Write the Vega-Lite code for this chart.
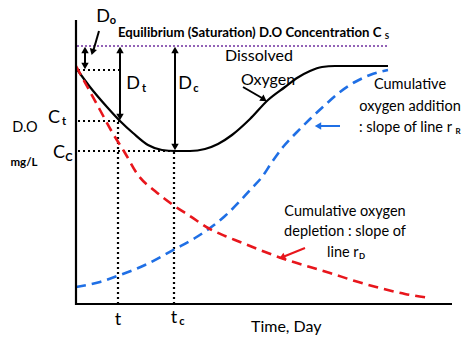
{
  "$schema": "https://vega.github.io/schema/vega-lite/v6.json",
  "width": 474,
  "height": 346,
  "padding": 0,
  "autosize": {"type": "fit", "contains": "padding"},
  "background": "white",
  "config": {"view": {"stroke": null}, "font": "Lato"},
  "datasets": {
    "curves": [
      {"series": "Dissolved oxygen", "x": 76, "y": 68},
      {"series": "Dissolved oxygen", "x": 90, "y": 87},
      {"series": "Dissolved oxygen", "x": 107, "y": 107},
      {"series": "Dissolved oxygen", "x": 120, "y": 121},
      {"series": "Dissolved oxygen", "x": 133, "y": 133},
      {"series": "Dissolved oxygen", "x": 148, "y": 145},
      {"series": "Dissolved oxygen", "x": 162, "y": 150},
      {"series": "Dissolved oxygen", "x": 175, "y": 151},
      {"series": "Dissolved oxygen", "x": 190, "y": 151},
      {"series": "Dissolved oxygen", "x": 205, "y": 149},
      {"series": "Dissolved oxygen", "x": 218, "y": 144},
      {"series": "Dissolved oxygen", "x": 232, "y": 135},
      {"series": "Dissolved oxygen", "x": 250, "y": 119},
      {"series": "Dissolved oxygen", "x": 268, "y": 100},
      {"series": "Dissolved oxygen", "x": 285, "y": 87},
      {"series": "Dissolved oxygen", "x": 297, "y": 78},
      {"series": "Dissolved oxygen", "x": 310, "y": 71},
      {"series": "Dissolved oxygen", "x": 322, "y": 67},
      {"series": "Dissolved oxygen", "x": 335, "y": 66},
      {"series": "Dissolved oxygen", "x": 388, "y": 66},
      {"series": "Cumulative oxygen addition", "x": 76, "y": 287},
      {"series": "Cumulative oxygen addition", "x": 100, "y": 282},
      {"series": "Cumulative oxygen addition", "x": 120, "y": 275},
      {"series": "Cumulative oxygen addition", "x": 145, "y": 265},
      {"series": "Cumulative oxygen addition", "x": 175, "y": 249},
      {"series": "Cumulative oxygen addition", "x": 195, "y": 238},
      {"series": "Cumulative oxygen addition", "x": 210, "y": 228},
      {"series": "Cumulative oxygen addition", "x": 225, "y": 216},
      {"series": "Cumulative oxygen addition", "x": 240, "y": 201},
      {"series": "Cumulative oxygen addition", "x": 252, "y": 188},
      {"series": "Cumulative oxygen addition", "x": 262, "y": 177},
      {"series": "Cumulative oxygen addition", "x": 272, "y": 162},
      {"series": "Cumulative oxygen addition", "x": 283, "y": 147},
      {"series": "Cumulative oxygen addition", "x": 296, "y": 133},
      {"series": "Cumulative oxygen addition", "x": 310, "y": 119},
      {"series": "Cumulative oxygen addition", "x": 325, "y": 105},
      {"series": "Cumulative oxygen addition", "x": 340, "y": 92},
      {"series": "Cumulative oxygen addition", "x": 355, "y": 82},
      {"series": "Cumulative oxygen addition", "x": 370, "y": 75},
      {"series": "Cumulative oxygen addition", "x": 388, "y": 70},
      {"series": "Cumulative oxygen depletion", "x": 76, "y": 66},
      {"series": "Cumulative oxygen depletion", "x": 88, "y": 88},
      {"series": "Cumulative oxygen depletion", "x": 100, "y": 110},
      {"series": "Cumulative oxygen depletion", "x": 112, "y": 132},
      {"series": "Cumulative oxygen depletion", "x": 125, "y": 153},
      {"series": "Cumulative oxygen depletion", "x": 138, "y": 175},
      {"series": "Cumulative oxygen depletion", "x": 155, "y": 191},
      {"series": "Cumulative oxygen depletion", "x": 173, "y": 205},
      {"series": "Cumulative oxygen depletion", "x": 190, "y": 216},
      {"series": "Cumulative oxygen depletion", "x": 208, "y": 228},
      {"series": "Cumulative oxygen depletion", "x": 225, "y": 236},
      {"series": "Cumulative oxygen depletion", "x": 240, "y": 242},
      {"series": "Cumulative oxygen depletion", "x": 260, "y": 250},
      {"series": "Cumulative oxygen depletion", "x": 287, "y": 260},
      {"series": "Cumulative oxygen depletion", "x": 310, "y": 267},
      {"series": "Cumulative oxygen depletion", "x": 330, "y": 273},
      {"series": "Cumulative oxygen depletion", "x": 355, "y": 281},
      {"series": "Cumulative oxygen depletion", "x": 380, "y": 288},
      {"series": "Cumulative oxygen depletion", "x": 405, "y": 294},
      {"series": "Cumulative oxygen depletion", "x": 430, "y": 298}
    ]
  },
  "encoding": {
    "x": {"field": "x", "type": "quantitative", "scale": {"domain": [0, 474], "nice": false, "zero": false}, "axis": null},
    "y": {"field": "y", "type": "quantitative", "scale": {"domain": [0, 346], "nice": false, "zero": false, "reverse": true}, "axis": null}
  },
  "layer": [
    {
      "data": {"values": [
        {"x": 77, "y": 46, "x2": 388, "y2": 46}
      ]},
      "mark": {"type": "rule", "color": "#7030a0", "strokeWidth": 1.6, "strokeDash": [2, 2]},
      "encoding": {"x2": {"field": "x2"}, "y2": {"field": "y2"}}
    },
    {
      "data": {"values": [
        {"x": 78, "y": 70, "x2": 120, "y2": 70},
        {"x": 78, "y": 121, "x2": 120, "y2": 121},
        {"x": 78, "y": 151, "x2": 175, "y2": 151},
        {"x": 118, "y": 122, "x2": 118, "y2": 303},
        {"x": 174, "y": 152, "x2": 174, "y2": 303}
      ]},
      "mark": {"type": "rule", "color": "black", "strokeWidth": 2.2, "strokeDash": [2, 3]},
      "encoding": {"x2": {"field": "x2"}, "y2": {"field": "y2"}}
    },
    {
      "data": {"name": "curves"},
      "transform": [{"filter": "datum.series === 'Dissolved oxygen'"}],
      "mark": {"type": "line", "color": "black", "strokeWidth": 2.2, "interpolate": "monotone"},
      "encoding": {}
    },
    {
      "data": {"name": "curves"},
      "transform": [{"filter": "datum.series === 'Cumulative oxygen addition'"}],
      "mark": {"type": "line", "color": "#1f6fe5", "strokeWidth": 2.6, "strokeDash": [10, 6], "interpolate": "monotone"},
      "encoding": {}
    },
    {
      "data": {"name": "curves"},
      "transform": [{"filter": "datum.series === 'Cumulative oxygen depletion'"}],
      "mark": {"type": "line", "color": "#e8161c", "strokeWidth": 2.6, "strokeDash": [10, 6], "interpolate": "monotone"},
      "encoding": {}
    },
    {
      "data": {"values": [
        {"x": 76, "y": 20, "x2": 76, "y2": 305},
        {"x": 75, "y": 304, "x2": 452, "y2": 304}
      ]},
      "mark": {"type": "rule", "color": "black", "strokeWidth": 2.2},
      "encoding": {"x2": {"field": "x2"}, "y2": {"field": "y2"}}
    },
    {
      "data": {"values": [
        {"series": "black", "x": 85, "y": 49, "x2": 85, "y2": 67},
        {"series": "black", "x": 120, "y": 49, "x2": 120, "y2": 118},
        {"series": "black", "x": 175, "y": 49, "x2": 175, "y2": 148},
        {"series": "black", "x": 99, "y": 31, "x2": 93.5, "y2": 50},
        {"series": "black", "x": 243, "y": 87, "x2": 262, "y2": 98},
        {"series": "red", "x": 305, "y": 248, "x2": 284, "y2": 256.5},
        {"series": "blue", "x": 340, "y": 126, "x2": 320, "y2": 126}
      ]},
      "mark": {"type": "rule", "strokeWidth": 2},
      "encoding": {
        "x2": {"field": "x2"}, "y2": {"field": "y2"},
        "color": {"field": "series", "type": "nominal", "scale": {"domain": ["black", "red", "blue"], "range": ["black", "#e8161c", "#1f6fe5"]}, "legend": null}
      }
    },
    {
      "data": {"values": [
        {"series": "black", "x": 85, "y": 50, "heading": 0},
        {"series": "black", "x": 120, "y": 50, "heading": 0},
        {"series": "black", "x": 175, "y": 50, "heading": 0},
        {"series": "black", "x": 85, "y": 66, "heading": 180},
        {"series": "black", "x": 120, "y": 117, "heading": 180},
        {"series": "black", "x": 175, "y": 147, "heading": 180},
        {"series": "black", "x": 92.5, "y": 52, "heading": 196},
        {"series": "black", "x": 264, "y": 99.5, "heading": 125},
        {"series": "red", "x": 282, "y": 257.5, "heading": 246},
        {"series": "blue", "x": 318, "y": 126, "heading": 270}
      ]},
      "mark": {"type": "point", "shape": "triangle-up", "filled": true, "opacity": 1, "size": 55},
      "encoding": {
        "angle": {"field": "heading", "type": "quantitative", "scale": null},
        "color": {"field": "series", "type": "nominal", "scale": {"domain": ["black", "red", "blue"], "range": ["black", "#e8161c", "#1f6fe5"]}, "legend": null}
      }
    },
    {
      "data": {"values": [
        {"text": "D", "x": 103, "y": 17},
        {"text": "D", "x": 133, "y": 84},
        {"text": "D", "x": 185, "y": 84},
        {"text": "C", "x": 54, "y": 118},
        {"text": "C", "x": 59, "y": 153},
        {"text": "t", "x": 118, "y": 320},
        {"text": "t", "x": 174, "y": 318}
      ]},
      "mark": {"type": "text", "fontSize": 18, "align": "center", "baseline": "middle", "color": "black"},
      "encoding": {"text": {"field": "text"}}
    },
    {
      "data": {"values": [
        {"text": "o", "x": 113, "y": 21},
        {"text": "t", "x": 144, "y": 89},
        {"text": "c", "x": 196, "y": 89},
        {"text": "t", "x": 64, "y": 122},
        {"text": "C", "x": 69, "y": 158},
        {"text": "c", "x": 182, "y": 322}
      ]},
      "mark": {"type": "text", "fontSize": 11, "fontWeight": "bold", "align": "center", "baseline": "middle", "color": "black"},
      "encoding": {"text": {"field": "text"}}
    },
    {
      "data": {"values": [
        {"text": "Equilibrium (Saturation) D.O Concentration C", "x": 118, "y": 33}
      ]},
      "mark": {"type": "text", "fontSize": 13.2, "fontWeight": "bold", "align": "left", "baseline": "middle", "color": "black"},
      "encoding": {"text": {"field": "text"}}
    },
    {
      "data": {"values": [
        {"text": "S", "x": 387, "y": 37},
        {"text": "R", "x": 458, "y": 132},
        {"text": "D", "x": 362, "y": 257}
      ]},
      "mark": {"type": "text", "fontSize": 8, "fontWeight": "bold", "align": "center", "baseline": "middle", "color": "black"},
      "encoding": {"text": {"field": "text"}}
    },
    {
      "data": {"values": [
        {"text": "Dissolved", "x": 225, "y": 56},
        {"text": "Oxygen", "x": 241, "y": 80},
        {"text": "Time, Day", "x": 251, "y": 327}
      ]},
      "mark": {"type": "text", "fontSize": 16, "align": "left", "baseline": "middle", "color": "black"},
      "encoding": {"text": {"field": "text"}}
    },
    {
      "data": {"values": [
        {"text": "Cumulative", "x": 410, "y": 85},
        {"text": "oxygen addition", "x": 410, "y": 107},
        {"text": "Cumulative oxygen", "x": 345, "y": 212},
        {"text": "depletion : slope of", "x": 345, "y": 232}
      ]},
      "mark": {"type": "text", "fontSize": 14.5, "align": "center", "baseline": "middle", "color": "black"},
      "encoding": {"text": {"field": "text"}}
    },
    {
      "data": {"values": [
        {"text": ": slope of line r", "x": 359, "y": 128},
        {"text": "line r", "x": 327, "y": 253}
      ]},
      "mark": {"type": "text", "fontSize": 14.5, "align": "left", "baseline": "middle", "color": "black"},
      "encoding": {"text": {"field": "text"}}
    },
    {
      "data": {"values": [
        {"text": "D.O", "x": 25, "y": 128}
      ]},
      "mark": {"type": "text", "fontSize": 14.5, "align": "center", "baseline": "middle", "color": "black"},
      "encoding": {"text": {"field": "text"}}
    },
    {
      "data": {"values": [
        {"text": "mg/L", "x": 24, "y": 163}
      ]},
      "mark": {"type": "text", "fontSize": 11.5, "fontWeight": "bold", "align": "center", "baseline": "middle", "color": "black"},
      "encoding": {"text": {"field": "text"}}
    }
  ]
}
